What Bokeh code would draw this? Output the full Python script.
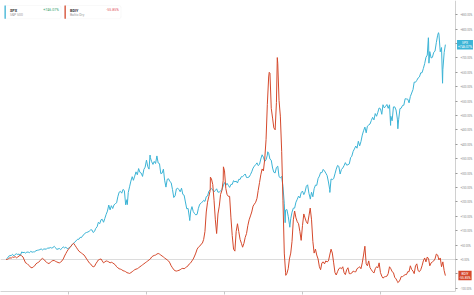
import numpy as np
import pandas as pd
from bokeh.plotting import figure
from bokeh.models import (Range1d, Label, BoxAnnotation, SingleIntervalTicker,
                          PrintfTickFormatter, FixedTicker, ColumnDataSource)
from bokeh.embed import file_html
from bokeh.resources import INLINE

# ---------------- data (month-end levels, Dec 1990 .. Feb 2019) ----------------
spx_levels = [
    330.2,
    343.9, 367.1, 375.2, 375.3, 389.8, 371.2, 387.8, 395.4, 387.9, 392.5, 375.2, 417.1,
    408.8, 412.7, 403.7, 414.9, 415.4, 408.1, 424.2, 414.0, 417.8, 418.7, 431.4, 435.7,
    438.8, 443.4, 451.7, 440.2, 450.2, 450.5, 448.1, 463.6, 458.9, 467.8, 461.8, 466.5,
    481.6, 467.1, 445.8, 451.0, 456.5, 444.3, 458.3, 475.5, 462.7, 472.4, 454.0, 459.3,
    470.4, 487.4, 500.7, 514.7, 533.4, 544.8, 562.1, 561.9, 584.4, 581.5, 605.4, 615.9,
    636.0, 640.4, 645.5, 654.2, 669.1, 670.6, 639.9, 652.0, 687.3, 705.3, 757.0, 740.7,
    786.2, 791.0, 757.1, 801.3, 848.3, 885.1, 954.3, 899.5, 947.3, 914.6, 955.4, 970.4,
    980.3, 1049.3, 1101.8, 1111.8, 1090.8, 1133.8, 1120.7, 957.3, 1017.0, 1098.7, 1163.6, 1229.2,
    1279.6, 1238.3, 1286.4, 1335.2, 1301.8, 1372.7, 1328.7, 1320.4, 1282.7, 1362.9, 1389.0, 1469.3,
    1394.5, 1366.4, 1498.6, 1452.4, 1420.6, 1454.6, 1430.8, 1517.7, 1436.5, 1429.4, 1315.2, 1320.3,
    1366.0, 1239.9, 1160.3, 1249.5, 1255.8, 1224.4, 1211.2, 1133.6, 1040.9, 1059.8, 1139.5, 1148.1,
    1130.2, 1106.7, 1147.4, 1076.9, 1067.1, 989.8, 911.6, 916.1, 815.3, 885.8, 936.3, 879.8,
    855.7, 841.2, 848.2, 916.9, 963.6, 974.5, 990.3, 1008.0, 996.0, 1050.7, 1058.2, 1111.9,
    1131.1, 1144.9, 1126.2, 1107.3, 1120.7, 1140.8, 1101.7, 1104.2, 1114.6, 1130.2, 1173.8, 1211.9,
    1181.3, 1203.6, 1180.6, 1156.9, 1191.5, 1191.3, 1234.2, 1220.3, 1228.8, 1207.0, 1249.5, 1248.3,
    1280.1, 1280.7, 1294.9, 1310.6, 1270.1, 1270.2, 1276.7, 1303.8, 1335.9, 1377.9, 1400.6, 1418.3,
    1438.2, 1406.8, 1420.9, 1482.4, 1530.6, 1503.4, 1455.3, 1474.0, 1526.8, 1549.4, 1481.1, 1468.4,
    1378.6, 1330.6, 1322.7, 1385.6, 1400.4, 1280.0, 1267.4, 1282.8, 1166.4, 968.8, 896.2, 903.3,
    825.9, 735.1, 797.9, 872.8, 919.1, 919.3, 987.5, 1020.6, 1057.1, 1036.2, 1095.6, 1115.1,
    1073.9, 1104.5, 1169.4, 1186.7, 1089.4, 1030.7, 1101.6, 1049.3, 1141.2, 1183.3, 1180.6, 1257.6,
    1286.1, 1327.2, 1325.8, 1363.6, 1345.2, 1320.6, 1292.3, 1218.9, 1131.4, 1253.3, 1247.0, 1257.6,
    1312.4, 1365.7, 1408.5, 1397.9, 1310.3, 1362.2, 1379.3, 1406.6, 1440.7, 1412.2, 1416.2, 1426.2,
    1498.1, 1514.7, 1569.2, 1597.6, 1630.7, 1606.3, 1685.7, 1633.0, 1681.6, 1756.5, 1805.8, 1848.4,
    1782.6, 1859.5, 1872.3, 1883.9, 1923.6, 1960.2, 1930.7, 2003.4, 1972.3, 2018.1, 2067.6, 2058.9,
    1995.0, 2104.5, 2067.9, 2085.5, 2107.4, 2063.1, 2103.8, 1972.2, 1920.0, 2079.4, 2080.4, 2043.9,
    1940.2, 1932.2, 2059.7, 2065.3, 2096.9, 2098.9, 2173.6, 2170.9, 2168.3, 2126.2, 2199.0, 2238.8,
    2278.9, 2363.6, 2362.7, 2384.2, 2411.8, 2423.4, 2470.3, 2471.7, 2519.4, 2575.3, 2647.6, 2673.6,
    2823.8, 2713.8, 2640.9, 2648.1, 2705.3, 2718.4, 2816.3, 2901.5, 2914.0, 2711.7, 2760.2, 2506.9,
    2704.1, 2793.7,
]
spx_extra_dates = ["1998-10-08", "2000-03-24", "2002-10-09", "2007-10-09", "2008-11-20",
                   "2009-03-09", "2010-07-02", "2011-10-03", "2015-08-25", "2016-02-11",
                   "2018-01-26", "2018-02-08", "2018-09-20", "2018-12-24"]
spx_extra_levels = [959.4, 1527.5, 776.8, 1565.2, 752.4, 700.0, 1022.6, 1099.2, 1867.6,
                    1829.1, 2872.9, 2581.0, 2930.8, 2351.1]

bdi_levels = [
    1472,
    1480, 1520, 1560, 1540, 1600, 1580, 1620, 1560, 1600, 1650, 1700, 1660,
    1600, 1450, 1300, 1270, 1200, 1150, 1060, 1050, 1100, 1150, 1250, 1300,
    1330, 1400, 1480, 1530, 1480, 1400, 1350, 1280, 1270, 1320, 1380, 1420,
    1420, 1380, 1350, 1320, 1300, 1340, 1400, 1500, 1650, 1780, 1900, 2000,
    2080, 2150, 2250, 2300, 2200, 2100, 2000, 1900, 1850, 1800, 1750, 1700,
    1600, 1500, 1400, 1300, 1250, 1150, 1100, 1120, 1250, 1350, 1450, 1480,
    1500, 1400, 1300, 1350, 1400, 1380, 1350, 1300, 1330, 1300, 1250, 1200,
    1100, 1050, 1000, 980, 950, 900, 880, 850, 800, 780, 760, 800,
    850, 900, 950, 980, 1000, 1050, 1100, 1150, 1200, 1250, 1300, 1350,
    1400, 1450, 1500, 1600, 1650, 1680, 1700, 1750, 1780, 1750, 1700, 1650,
    1600, 1550, 1500, 1450, 1400, 1300, 1150, 1050, 950, 900, 880, 900,
    920, 950, 1000, 1020, 1000, 1050, 1100, 1150, 1250, 1300, 1400, 1500,
    1650, 1800, 2000, 2100, 2150, 2250, 2300, 2500, 2900, 3900, 4400, 4700,
    5000, 5600, 5300, 4500, 3500, 2800, 3800, 4200, 4800, 5000, 5500, 6000,
    5100, 4800, 4700, 4700, 3600, 2700, 2000, 1900, 2900, 3300, 2900, 2500,
    2300, 2100, 2300, 2600, 2800, 3200, 3500, 3700, 3900, 4200, 4300, 4400,
    4600, 5000, 5400, 5800, 6100, 6000, 6600, 7600, 9400, 10800, 11000, 9200,
    8700, 8200, 8100, 9500, 11500, 9600, 8800, 7000, 4500, 1800, 820, 760,
    1000, 1500, 1800, 2400, 3500, 3950, 3600, 3400, 3300, 2900, 2450, 3200,
    3800, 3600, 3400, 3300, 3700, 4100, 3500, 2400, 1800, 2000, 1700, 1500,
    1100, 950, 1300, 1350, 1250, 1400, 1350, 1400, 1700, 2000, 1800, 1300,
    800, 680, 850, 1000, 1050, 1000, 1100, 800, 700, 950, 1050, 750,
    750, 780, 880, 850, 840, 1000, 1050, 1100, 1000, 1300, 1700, 2150,
    1250, 1150, 1400, 1050, 950, 850, 780, 1000, 1100, 1050, 1300, 800,
    620, 520, 580, 600, 620, 750, 1100, 1000, 850, 800, 560, 480,
    350, 320, 420, 600, 600, 650, 700, 700, 850, 850, 1150, 960,
    880, 750, 1150, 1250, 900, 850, 950, 1150, 1400, 1550, 1350, 1600,
    1500, 1150, 1300, 1350, 1400, 1500, 1750, 1700, 1450, 1550, 1100, 1350,
    900, 650,
]
bdi_extra_dates = ["2004-02-05", "2004-12-06", "2007-11-13", "2008-05-20", "2008-12-05", "2016-02-10"]
bdi_extra_levels = [5681, 6208, 11039, 11793, 663, 290]

series_names = ["SPX", "BDIY"]
series_desc = ["S&P 500", "Baltic Dry"]
series_change = ["+746.07%", "-55.85%"]
x_tick_dates = ["1995-01-01", "2000-01-01", "2005-01-01", "2010-01-01", "2015-01-01"]

CYAN = "#3cb4d6"
RED = "#d5492c"
FONT = "Roboto"

# ---------------- build series ----------------
months = np.arange(np.datetime64("1990-12"), np.datetime64("2019-03"), dtype="datetime64[M]")
month_end = (months + 1).astype("datetime64[D]") - np.timedelta64(1, "D")


def build(levels, extra_dates, extra_levels):
    d = np.concatenate([month_end, np.array(extra_dates, dtype="datetime64[D]")])
    v = np.concatenate([np.array(levels, dtype=float), np.array(extra_levels, dtype=float)])
    o = np.argsort(d, kind="stable")
    d, v = d[o], v[o]
    pct = (v / levels[0] - 1.0) * 100.0
    return ColumnDataSource(dict(x=d.astype("datetime64[ms]"), y=pct)), pct


spx_src, spx_pct = build(spx_levels, spx_extra_dates, spx_extra_levels)
bdi_src, bdi_pct = build(bdi_levels, bdi_extra_dates, bdi_extra_levels)

x0 = pd.Timestamp("1990-08-22")
x_axis_pos = pd.Timestamp("2019-10-23")       # where the price scale sits
FW_PLOT, FW, FH = 455.0, 474.0, 291.0
x_end = x0 + (x_axis_pos - x0) * (FW / FW_PLOT)
y0, y1 = -111.1, 899.3

p = figure(width=474, height=295, x_axis_type="datetime", y_axis_location="right",
           x_range=Range1d(x0, x_end), y_range=Range1d(y0, y1),
           output_backend="svg", toolbar_location=None,
           min_border_left=0, min_border_top=0, min_border_right=0, min_border_bottom=4)
p.grid.visible = False
p.outline_line_color = None
p.background_fill_color = "white"

# x axis
xa = p.xaxis[0]
xa.ticker = FixedTicker(ticks=[pd.Timestamp(d).value / 1e6 for d in x_tick_dates])
xa.bounds = (x0.value / 1e6, x_axis_pos.value / 1e6)
xa.axis_line_color = "#d4d4d4"
xa.major_tick_line_color = "#c8c8c8"
xa.major_tick_in = 0
xa.major_tick_out = 3
xa.minor_tick_line_color = None
xa.major_label_text_font_size = "1px"
xa.major_label_text_alpha = 0
xa.major_label_standoff = 0

# y axis (price scale), fixed at the right edge of the plotting area
ya = p.yaxis[0]
ya.fixed_location = x_axis_pos.value / 1e6
ya.ticker = SingleIntervalTicker(interval=50, num_minor_ticks=0)
ya.formatter = PrintfTickFormatter(format="%+.2f%%")
ya.axis_line_color = "#d0d0d0"
ya.major_tick_line_color = "#999999"
ya.major_tick_in = 0
ya.major_tick_out = 2
ya.minor_tick_line_color = None
ya.major_label_text_font_size = "2.7px"
ya.major_label_text_color = "#8a8a8a"
ya.major_label_text_font = FONT
ya.major_label_standoff = 3

# zero line
p.line([x0, x_axis_pos], [0, 0], line_color="#dcdcdc", line_width=1)

p.line("x", "y", source=spx_src, line_color=CYAN, line_width=1)
p.line("x", "y", source=bdi_src, line_color=RED, line_width=1)

# value tags on the price scale
for pct, col, name, chg in [(spx_pct, CYAN, series_names[0], series_change[0]),
                            (bdi_pct, RED, series_names[1], series_change[1])]:
    p.add_layout(Label(x=x_axis_pos, y=pct[-1], text=f"{name}\n{chg}", x_offset=9.5,
                       text_align="center", text_baseline="middle",
                       text_font=FONT, text_font_size="3.2px", text_color="white",
                       text_line_height=1.0,
                       background_fill_color=col, background_fill_alpha=1.0, padding=1))


# legend boxes at top left
def px_x(px):
    return x0 + (x_end - x0) * (px / FW)


def px_y(py):
    return y1 - (y1 - y0) * (py / FH)


for i, (col, chg_col) in enumerate([(CYAN, "#2f9e6b"), (RED, "#e25563")]):
    L = 4 + 60 * i
    R = L + 56.5
    p.add_layout(BoxAnnotation(left=px_x(L), right=px_x(R), top=px_y(5), bottom=px_y(18.3),
                               fill_color="white", fill_alpha=1, line_color="#e2e2e2",
                               line_width=0.7, border_radius=2))
    p.add_layout(BoxAnnotation(left=px_x(L), right=px_x(L + 1.3), top=px_y(5), bottom=px_y(18.3),
                               fill_color=col, fill_alpha=1, line_color=None))
    p.add_layout(Label(x=px_x(L + 5.5), y=px_y(9.8), text=series_names[i], text_font=FONT,
                       text_font_size="3.8px", text_font_style="bold", text_color="#333333",
                       text_baseline="middle"))
    p.add_layout(Label(x=px_x(L + 5.5), y=px_y(14.4), text=series_desc[i], text_font=FONT,
                       text_font_size="3.4px", text_color="#9a9a9a", text_baseline="middle"))
    p.add_layout(Label(x=px_x(R - 2), y=px_y(9.8), text=series_change[i], text_font=FONT,
                       text_font_size="3.6px", text_color=chg_col, text_baseline="middle",
                       text_align="right"))

open("out.html", "w").write(file_html(p, INLINE))
